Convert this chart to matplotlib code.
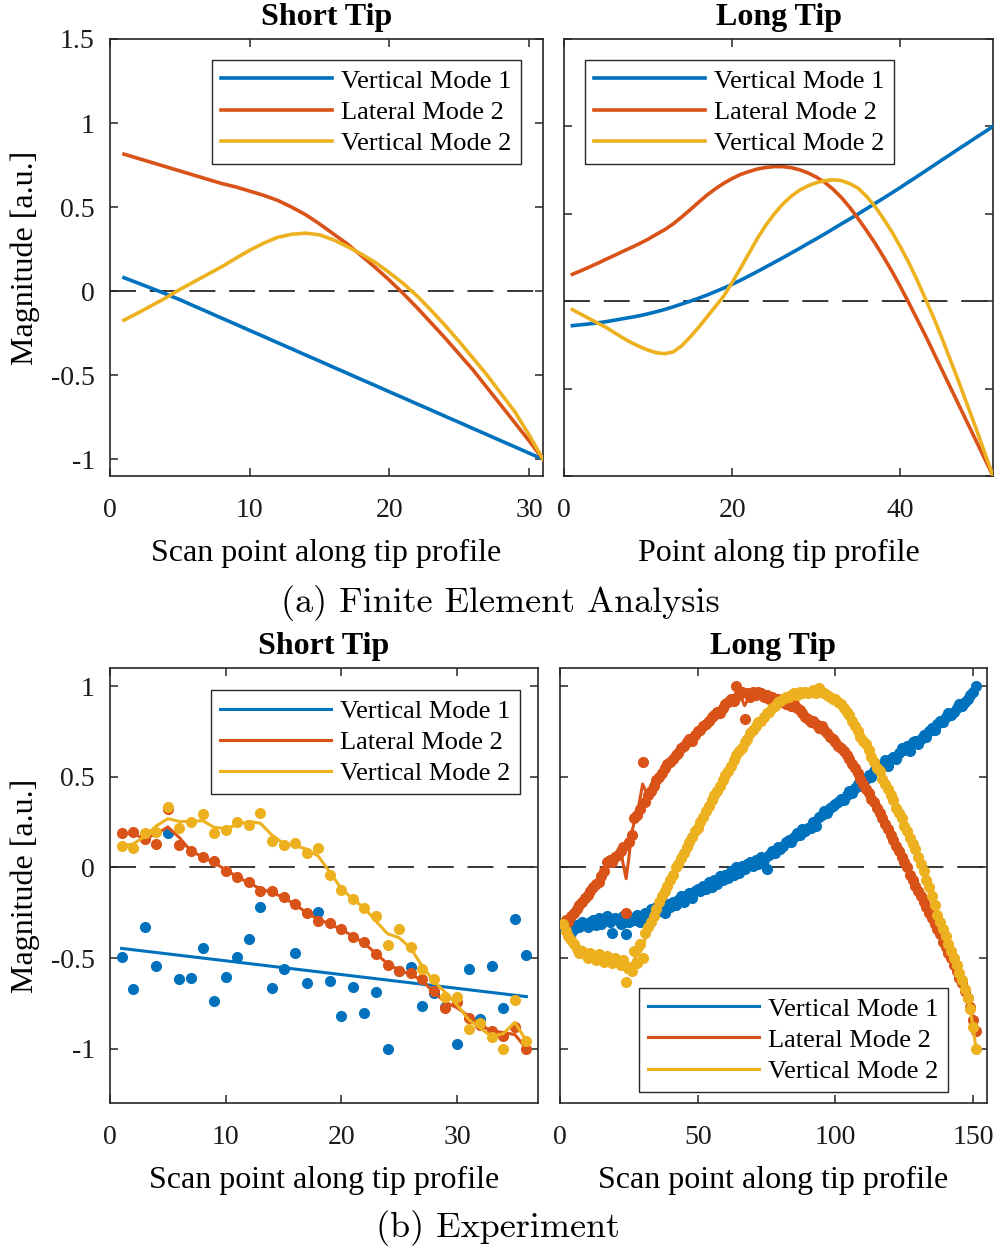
import numpy as np
import matplotlib
matplotlib.use("Agg")
import matplotlib.pyplot as plt

plt.rcParams['font.family'] = ['Liberation Serif', 'DejaVu Serif']

C_BLUE = '#0072BD'
C_RED = '#D95319'
C_YEL = '#EDB120'
AX_COL = '#262626'
names = ['Vertical Mode 1', 'Lateral Mode 2', 'Vertical Mode 2']

# ---- (a) FEA, short tip: scan points 1..31
fea_short_x = list(range(1, 32))
fea_short_v1 = [0.080, 0.048, 0.016, -0.017, -0.051, -0.088, -0.124, -0.161, -0.197, -0.234,
                -0.270, -0.307, -0.343, -0.380, -0.416, -0.453, -0.489, -0.526, -0.562, -0.599,
                -0.635, -0.672, -0.708, -0.745, -0.781, -0.818, -0.854, -0.891, -0.927, -0.964, -1.0]
fea_short_l2 = [0.815, 0.79, 0.765, 0.74, 0.715, 0.69, 0.665, 0.64, 0.62, 0.595,
                0.57, 0.54, 0.50, 0.455, 0.40, 0.34, 0.28, 0.21, 0.14, 0.065,
                -0.015, -0.10, -0.19, -0.28, -0.375, -0.47, -0.575, -0.68, -0.785, -0.89, -1.0]
fea_short_v2 = [-0.173, -0.13, -0.085, -0.04, 0.01, 0.055, 0.10, 0.145, 0.195, 0.243,
                0.285, 0.32, 0.338, 0.345, 0.335, 0.305, 0.265, 0.22, 0.17, 0.11,
                0.045, -0.03, -0.115, -0.205, -0.30, -0.40, -0.50, -0.61, -0.72, -0.855, -1.0]

# ---- (a) FEA, long tip: points 1..51
fea_long_x = list(range(1, 52))
fea_long_v1 = [-0.14, -0.135, -0.13, -0.124, -0.117, -0.109, -0.10, -0.092, -0.083, -0.072,
               -0.06, -0.047, -0.032, -0.016, 0.0, 0.017, 0.035, 0.055, 0.075, 0.097,
               0.12, 0.145, 0.17, 0.196, 0.222, 0.248, 0.275, 0.302, 0.33, 0.357,
               0.385, 0.414, 0.443, 0.471, 0.50, 0.53, 0.56, 0.59, 0.62, 0.651,
               0.683, 0.714, 0.746, 0.778, 0.81, 0.842, 0.874, 0.905, 0.937, 0.968, 1.0]
fea_long_l2 = [0.154, 0.174, 0.195, 0.217, 0.24, 0.262, 0.285, 0.307, 0.33, 0.355,
               0.383, 0.41, 0.443, 0.482, 0.523, 0.566, 0.607, 0.643, 0.675, 0.702,
               0.725, 0.742, 0.756, 0.765, 0.77, 0.77, 0.764, 0.752, 0.734, 0.71,
               0.68, 0.64, 0.592, 0.535, 0.47, 0.402, 0.33, 0.252, 0.17, 0.082,
               -0.01, -0.105, -0.20, -0.30, -0.40, -0.50, -0.60, -0.70, -0.80, -0.90, -1.0]
fea_long_v2 = [-0.048, -0.074, -0.10, -0.125, -0.15, -0.18, -0.21, -0.237, -0.26, -0.28,
               -0.295, -0.30, -0.29, -0.255, -0.205, -0.15, -0.09, -0.03, 0.03, 0.108,
               0.19, 0.275, 0.36, 0.435, 0.50, 0.555, 0.60, 0.635, 0.66, 0.678,
               0.69, 0.694, 0.69, 0.672, 0.645, 0.598, 0.54, 0.47, 0.395, 0.31,
               0.22, 0.118, 0.01, -0.10, -0.22, -0.345, -0.47, -0.60, -0.73, -0.865, -1.0]

# ---- (b) Experiment, short tip: scan points 1..36
exp_short_x = list(range(1, 37))
exp_short_v1 = [-0.497, -0.671, -0.327, -0.543, 0.189, -0.618, -0.612, -0.445, -0.736, -0.607,
                -0.493, -0.397, -0.221, -0.664, -0.563, -0.471, -0.640, -0.245, -0.625, -0.818,
                -0.662, -0.805, -0.686, -1.0, -0.57, -0.548, -0.765, -0.692, -0.769, -0.975,
                -0.563, -0.835, -0.544, -0.778, -0.285, -0.484]
exp_short_l2 = [0.1875, 0.197, 0.156, 0.129, 0.32, 0.123, 0.09, 0.055, 0.035, -0.02,
                -0.051, -0.083, -0.129, -0.129, -0.165, -0.204, -0.25, -0.296, -0.305, -0.342,
                -0.382, -0.41, -0.478, -0.539, -0.572, -0.585, -0.618, -0.682, -0.775, -0.745,
                -0.833, -0.87, -0.905, -0.93, -0.88, -1.0]
exp_short_v2 = [0.118, 0.105, 0.19, 0.197, 0.331, 0.215, 0.252, 0.294, 0.191, 0.208,
                0.25, 0.233, 0.298, 0.145, 0.123, 0.136, 0.081, 0.105, -0.042, -0.125,
                -0.176, -0.226, -0.268, -0.428, -0.342, -0.441, -0.563, -0.618, -0.713, -0.717,
                -0.89, -0.86, -0.937, -1.0, -0.732, -0.958]
# linear trend drawn for vertical mode 1 (end points)
exp_short_fit_x = [1, 36]
exp_short_fit_y = [-0.447, -0.713]

# ---- (b) Experiment, long tip: scan points 1..151
exp_long_x = list(range(1, 152))
exp_long_v1 = [-0.33, -0.31, -0.35, -0.36, -0.34, -0.32, -0.33, -0.30, -0.31, -0.33,
               -0.30, -0.29, -0.32, -0.28, -0.31, -0.29, -0.27, -0.30, -0.36, -0.28,
               -0.29, -0.31, -0.27, -0.37, -0.30, -0.28, -0.29, -0.26, -0.30, -0.27,
               -0.25, -0.27, -0.23, -0.26, -0.22, -0.24, -0.21, -0.25, -0.20, -0.22,
               -0.19, -0.21, -0.18, -0.16, -0.19, -0.15, -0.14, -0.17, -0.13, -0.12,
               -0.13, -0.10, -0.12, -0.08, -0.11, -0.07, -0.09, -0.05, -0.07, -0.04,
               -0.06, -0.02, -0.04, 0.00, -0.03, 0.01, -0.01, 0.02, 0.03, 0.01,
               0.04, 0.02, 0.06, 0.04, -0.01, 0.07, 0.09, 0.08, 0.11, 0.10,
               0.12, 0.14, 0.15, 0.14, 0.17, 0.19, 0.18, 0.21, 0.20, 0.22,
               0.22, 0.25, 0.23, 0.28, 0.29, 0.31, 0.30, 0.33, 0.34, 0.35,
               0.36, 0.38, 0.37, 0.40, 0.42, 0.41, 0.44, 0.46, 0.45, 0.48,
               0.49, 0.51, 0.50, 0.53, 0.55, 0.54, 0.57, 0.59, 0.56, 0.60,
               0.61, 0.60, 0.63, 0.66, 0.65, 0.67, 0.64, 0.69, 0.70, 0.68,
               0.71, 0.73, 0.72, 0.75, 0.77, 0.76, 0.79, 0.81, 0.80, 0.83,
               0.85, 0.84, 0.86, 0.88, 0.90, 0.89, 0.91, 0.93, 0.95, 0.97,
               1.0]
exp_long_l2 = [-0.31, -0.29, -0.30, -0.27, -0.25, -0.23, -0.21, -0.19, -0.17, -0.15,
               -0.13, -0.11, -0.09, -0.08, -0.05, -0.02, 0.03, 0.04, 0.03, 0.06,
               0.07, 0.09, 0.11, -0.25, 0.14, 0.18, 0.27, 0.29, 0.32, 0.58,
               0.36, 0.40, 0.42, 0.45, 0.48, 0.50, 0.52, 0.55, 0.57, 0.58,
               0.60, 0.62, 0.63, 0.66, 0.67, 0.69, 0.71, 0.70, 0.73, 0.75,
               0.76, 0.78, 0.79, 0.81, 0.83, 0.84, 0.86, 0.85, 0.88, 0.90,
               0.91, 0.93, 0.92, 1.00, 0.95, 0.97, 0.82, 0.96, 0.94, 0.97,
               0.95, 0.97, 0.96, 0.94, 0.95, 0.93, 0.94, 0.92, 0.93, 0.91,
               0.92, 0.90, 0.91, 0.89, 0.90, 0.88, 0.87, 0.85, 0.83, 0.82,
               0.80, 0.81, 0.79, 0.77, 0.78, 0.76, 0.74, 0.72, 0.71, 0.69,
               0.67, 0.66, 0.64, 0.62, 0.60, 0.57, 0.55, 0.52, 0.49, 0.46,
               0.43, 0.41, 0.38, 0.36, 0.33, 0.30, 0.27, 0.24, 0.21, 0.18,
               0.15, 0.12, 0.09, 0.06, 0.03, 0.00, -0.04, -0.07, -0.10, -0.13,
               -0.16, -0.19, -0.22, -0.25, -0.28, -0.31, -0.34, -0.37, -0.41, -0.44,
               -0.47, -0.50, -0.54, -0.57, -0.61, -0.64, -0.68, -0.72, -0.77, -0.84,
               -0.90]
exp_long_v2 = [-0.31, -0.35, -0.38, -0.40, -0.42, -0.45, -0.47, -0.46, -0.48, -0.50,
               -0.47, -0.49, -0.51, -0.48, -0.50, -0.52, -0.49, -0.51, -0.53, -0.50,
               -0.52, -0.54, -0.51, -0.63, -0.55, -0.57, -0.46, -0.53, -0.42, -0.50,
               -0.36, -0.33, -0.30, -0.27, -0.23, -0.19, -0.16, -0.13, -0.10, -0.07,
               -0.04, 0.00, 0.02, 0.05, 0.08, 0.11, 0.14, 0.17, 0.20, 0.22,
               0.25, 0.28, 0.31, 0.34, 0.37, 0.40, 0.42, 0.45, 0.48, 0.51,
               0.53, 0.56, 0.59, 0.62, 0.64, 0.66, 0.69, 0.71, 0.74, 0.76,
               0.78, 0.80, 0.81, 0.83, 0.85, 0.86, 0.88, 0.89, 0.91, 0.92,
               0.93, 0.94, 0.94, 0.95, 0.96, 0.95, 0.97, 0.96, 0.97, 0.96,
               0.97, 0.98, 0.96, 0.99, 0.97, 0.96, 0.95, 0.94, 0.93, 0.93,
               0.91, 0.90, 0.88, 0.86, 0.84, 0.81, 0.78, 0.75, 0.72, 0.70,
               0.68, 0.65, 0.61, 0.58, 0.55, 0.53, 0.49, 0.46, 0.43, 0.40,
               0.37, 0.33, 0.30, 0.27, 0.23, 0.20, 0.16, 0.13, 0.10, 0.06,
               0.02, -0.02, -0.07, -0.11, -0.16, -0.21, -0.26, -0.30, -0.34, -0.38,
               -0.42, -0.46, -0.50, -0.54, -0.58, -0.62, -0.67, -0.72, -0.78, -0.88,
               -1.0]


def smooth3(y):
    # light 3-point smoothing used for the experimental trace lines
    y = np.asarray(y, dtype=float)
    s = y.copy()
    s[1:-1] = 0.25 * y[:-2] + 0.5 * y[1:-1] + 0.25 * y[2:]
    return s


def style_axes(ax, xlim, ylim, xticks, yticks, show_ylabels):
    ax.set_xlim(*xlim)
    ax.set_ylim(*ylim)
    ax.set_xticks(xticks, [f'{t:g}' for t in xticks])
    if show_ylabels:
        ax.set_yticks(yticks, [f'{t:g}' for t in yticks])
    else:
        ax.set_yticks(yticks, ['' for t in yticks])
    ax.tick_params(direction='in', top=True, right=True, length=6, width=1.1,
                   color=AX_COL, labelsize=20, labelcolor='#1a1a1a')
    ax.tick_params(axis='x', pad=16)
    ax.tick_params(axis='y', pad=11)
    for sp in ax.spines.values():
        sp.set_linewidth(1.2)
        sp.set_color(AX_COL)
    ax.axhline(0, color='black', lw=1.1, dashes=(17, 9), zorder=1)


def add_legend(ax, loc, anchor):
    leg = ax.legend(loc=loc, bbox_to_anchor=anchor, borderaxespad=0, fontsize=19,
                    handlelength=4.2, handletextpad=0.35, labelspacing=0.29,
                    borderpad=0.35, fancybox=False, framealpha=1)
    leg.get_frame().set_edgecolor(AX_COL)
    leg.get_frame().set_linewidth(1.0)
    return leg


fig = plt.figure(figsize=(10, 12.5), dpi=100)
ax1 = fig.add_axes([0.110, 0.6192, 0.433, 0.3496])
ax2 = fig.add_axes([0.564, 0.6192, 0.429, 0.3496])
ax3 = fig.add_axes([0.110, 0.1176, 0.428, 0.348])
ax4 = fig.add_axes([0.560, 0.1176, 0.427, 0.348])

lw = 2.6
lw_exp = 2.2
# (a) short tip
for y, c, n in zip([fea_short_v1, fea_short_l2, fea_short_v2], [C_BLUE, C_RED, C_YEL], names):
    ax1.plot(fea_short_x, y, color=c, lw=lw, label=n, zorder=3)
style_axes(ax1, (0, 31), (-1.1, 1.5), [0, 10, 20, 30], [-1, -0.5, 0, 0.5, 1, 1.5], True)
ax1.set_title('Short Tip', fontsize=23, fontweight='bold', pad=10)
ax1.set_xlabel('Scan point along tip profile', fontsize=23, labelpad=11)
ax1.set_ylabel('Magnitude [a.u.]', fontsize=23, labelpad=8)
add_legend(ax1, 'upper right', (0.949, 0.952))

# (a) long tip
for y, c, n in zip([fea_long_v1, fea_long_l2, fea_long_v2], [C_BLUE, C_RED, C_YEL], names):
    ax2.plot(fea_long_x, y, color=c, lw=lw, label=n, zorder=3)
style_axes(ax2, (0, 51), (-1.0, 1.5), [0, 20, 40], [-1, -0.5, 0, 0.5, 1, 1.5], False)
ax2.set_title('Long Tip', fontsize=23, fontweight='bold', pad=10)
ax2.set_xlabel('Point along tip profile', fontsize=23, labelpad=11)
add_legend(ax2, 'upper left', (0.049, 0.952))

# (b) short tip
ms = 7
ax3.plot(exp_short_x, exp_short_v1, 'o', color=C_BLUE, ms=ms, zorder=3)
ax3.plot(exp_short_fit_x, exp_short_fit_y, color=C_BLUE, lw=lw_exp, label=names[0], zorder=3)
ax3.plot(exp_short_x, exp_short_l2, 'o', color=C_RED, ms=ms, zorder=3)
ax3.plot(exp_short_x, smooth3(exp_short_l2), color=C_RED, lw=lw_exp, label=names[1], zorder=3)
ax3.plot(exp_short_x, exp_short_v2, 'o', color=C_YEL, ms=ms, zorder=3)
ax3.plot(exp_short_x, smooth3(exp_short_v2), color=C_YEL, lw=lw_exp, label=names[2], zorder=3)
style_axes(ax3, (0, 37), (-1.3, 1.1), [0, 10, 20, 30], [-1, -0.5, 0, 0.5, 1], True)
ax3.set_title('Short Tip', fontsize=23, fontweight='bold', pad=10)
ax3.set_xlabel('Scan point along tip profile', fontsize=23, labelpad=11)
ax3.set_ylabel('Magnitude [a.u.]', fontsize=23, labelpad=8)
add_legend(ax3, 'upper right', (0.958, 0.949))

# (b) long tip
ms2 = 7
for y, c, n in zip([exp_long_v1, exp_long_l2, exp_long_v2], [C_BLUE, C_RED, C_YEL], names):
    ax4.plot(exp_long_x, y, 'o', color=c, ms=ms2, zorder=3)
    ax4.plot(exp_long_x, smooth3(y), color=c, lw=lw_exp, label=n, zorder=3)
style_axes(ax4, (0, 155), (-1.3, 1.1), [0, 50, 100, 150], [-1, -0.5, 0, 0.5, 1], False)
ax4.set_title('Long Tip', fontsize=23, fontweight='bold', pad=10)
ax4.set_xlabel('Scan point along tip profile', fontsize=23, labelpad=11)
add_legend(ax4, 'lower right', (0.9087, 0.0253))

fig.text(0.5, 1 - 603 / 1250, '(a) Finite Element Analysis', family=['cmr10', 'DejaVu Serif'],
         fontsize=26, ha='center', va='center')
fig.text(0.498, 1 - 1228 / 1250, '(b) Experiment', family=['cmr10', 'DejaVu Serif'],
         fontsize=26, ha='center', va='center')

fig.savefig('out.png', dpi=100)
